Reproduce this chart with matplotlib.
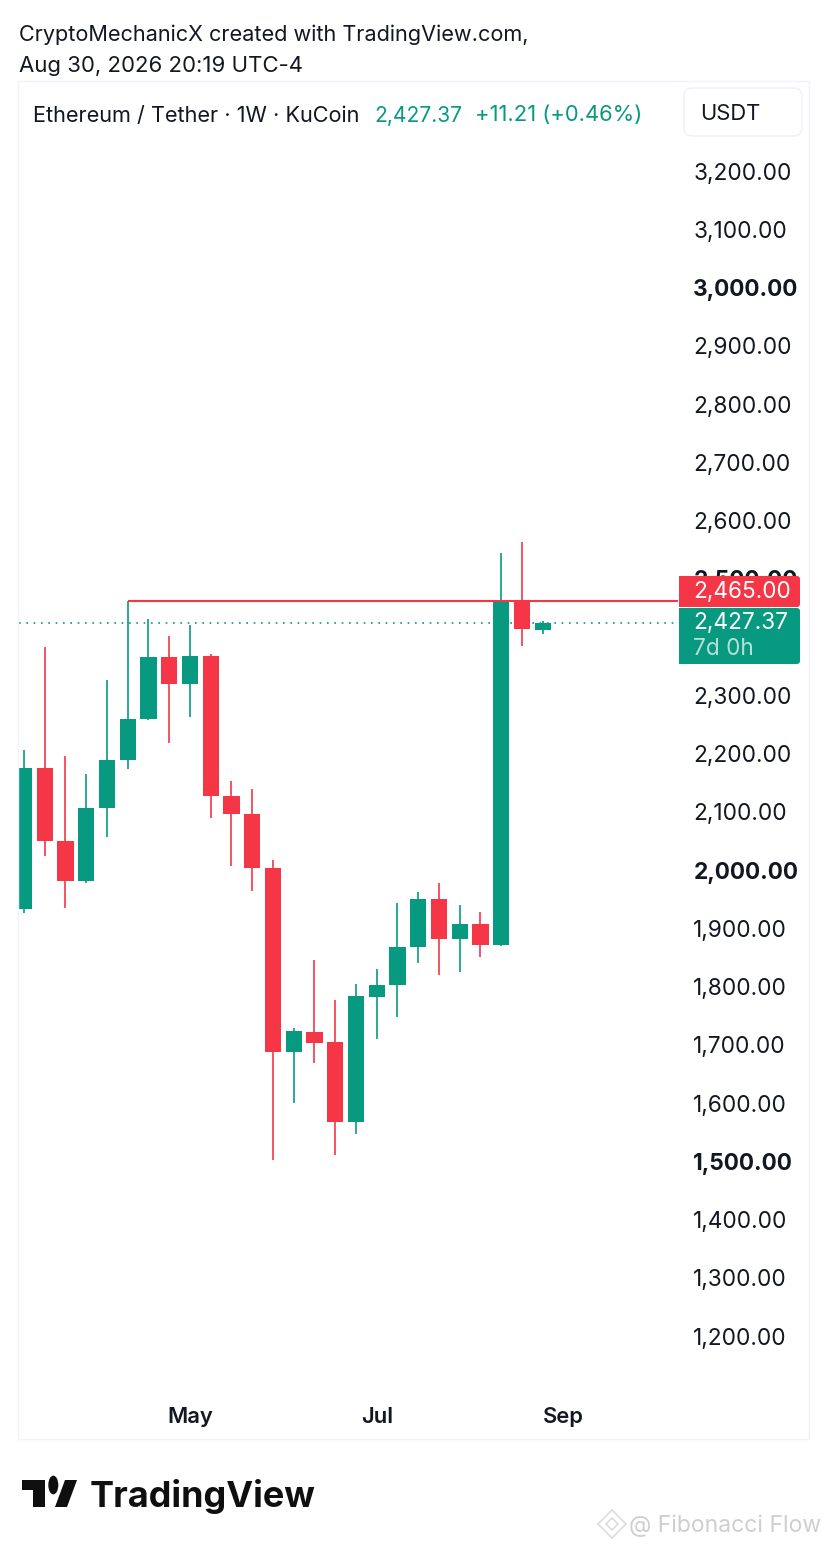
import matplotlib
matplotlib.use('Agg')
import matplotlib.pyplot as plt
from matplotlib.patches import Rectangle, FancyBboxPatch, Polygon, Circle
from matplotlib.transforms import IdentityTransform, ScaledTranslation

plt.rcParams['font.family'] = ['Inter', 'DejaVu Sans']

# weekly candles
opens = [1937, 2178, 2054, 1985, 2110.6, 2192, 2263, 2370, 2322.5, 2370.5, 2130.8, 2100, 2007,
         1690.7, 1725, 1707.9, 1571, 1785.2, 1806.3, 1871.5, 1954.4, 1885.3, 1910.5, 1875.5, 2465, 2416.16]
closes = [2178, 2054, 1984.3, 2110, 2192, 2263.4, 2370, 2323, 2370.5, 2130.8, 2099.8, 2007.1, 1690.7,
          1726.8, 1707.2, 1571, 1786.9, 1806.3, 1871.5, 1954.4, 1885.3, 1910.5, 1875.5, 2465, 2417.4, 2427.37]
highs = [2209.7, 2386.5, 2199.4, 2168, 2329.9, 2465, 2435, 2404.9, 2423.8, 2374, 2157, 2142.2, 2020.9,
         1732, 1849.7, 1780, 1808.5, 1833.8, 1946.5, 1966.5, 1980.9, 1943.1, 1931.6, 2547.4, 2566.3, 2431.1]
lows = [1930.4, 2027.8, 1939, 1980.9, 2060.9, 2176.6, 2260.7, 2221.2, 2266.4, 2093.5, 2010.6, 1968.2, 1505.9,
        1604.2, 1672.4, 1513.9, 1551, 1714, 1751.4, 1844, 1822.9, 1829.1, 1854.9, 1873.2, 2388.8, 2408.3]

price_ticks = [1200, 1300, 1400, 1500, 1600, 1700, 1800, 1900, 2000, 2100, 2200, 2300, 2500, 2600,
               2700, 2800, 2900, 3000, 3100, 3200]
bold_ticks = [1500, 2000, 2500, 3000]
month_pos = [8, 17, 26]
month_labels = ['May', 'Jul', 'Sep']

last_price = 2427.37
level_price = 2465
level_start = 5

GREEN = '#089981'
RED = '#F43647'
DARK = '#131722'

W, H = 828, 1550
fig = plt.figure(figsize=(W / 100, H / 100), dpi=100, facecolor='white')


def fx(x):
    return x / W


def fy(y):
    return 1 - y / H


def px_text(x, y, s, size, **kw):
    kw.setdefault('color', DARK)
    kw.setdefault('va', 'center')
    fig.text(fx(x), fy(y), s, fontsize=size * 0.72, **kw)


def px_box(x0, y0, x1, y1, rounding, **kw):
    # pixel coords from the top-left; box is drawn with display units so corners stay round
    fig.add_artist(FancyBboxPatch((x0 + rounding, H - y1 + rounding), x1 - x0 - 2 * rounding, y1 - y0 - 2 * rounding,
                                  boxstyle=f'round,pad={rounding},rounding_size={rounding}',
                                  mutation_scale=1, transform=IdentityTransform(), **kw))


def px_poly(pts, **kw):
    fig.add_artist(Polygon([(fx(x), fy(y)) for x, y in pts], closed=True, transform=fig.transFigure, **kw))


# outer frame
fig.add_artist(Rectangle((fx(18), fy(1439)), 791 / W, 1358 / H, transform=fig.transFigure,
                         fill=False, ec='#f0f3fa', lw=1))

ax = fig.add_axes([fx(19), fy(1398), 659 / W, 1317 / H])
ax.set_facecolor('none')
ax.set_xlim(-0.24, 31.52)
ax.set_ylim(1097.3, 3358.2)
for s in ax.spines.values():
    s.set_visible(False)

for i in range(len(opens)):
    col = GREEN if closes[i] >= opens[i] else RED
    ax.vlines(i, lows[i], highs[i], color=col, lw=1.2, zorder=3)
    ax.bar(i, abs(closes[i] - opens[i]), bottom=min(opens[i], closes[i]), width=0.79,
           color=col, edgecolor='none', zorder=4)

ax.hlines(level_price, level_start, 31.52, color=RED, lw=1.5, zorder=5)
ax.axhline(last_price, color=GREEN, lw=1.2, ls=(0, (1, 3.4)), zorder=2)

ax.yaxis.tick_right()
ax.set_yticks(price_ticks)
ax.set_yticklabels([f'{p:,.2f}' for p in price_ticks], fontsize=16.3, color=DARK)
ax.tick_params(axis='y', length=0, pad=11)
up = ScaledTranslation(0, 2 / 72 * 0.72, fig.dpi_scale_trans)
for lab, p in zip(ax.get_yticklabels(), price_ticks):
    lab.set_transform(lab.get_transform() + up)
    if p in bold_ticks:
        lab.set_fontweight('bold')
ax.set_xticks(month_pos)
ax.set_xticklabels(month_labels, fontsize=15.8, color=DARK, fontweight='semibold')
ax.tick_params(axis='x', length=0, pad=6.7)

# last price / level tags over the scale
px_box(679, 608, 800, 664, 3, fc=GREEN, ec='none', zorder=20)
fig.add_artist(Rectangle((fx(679), fy(664)), 6 / W, 56 / H, transform=fig.transFigure, fc=GREEN, ec='none', zorder=20))
px_box(679, 576, 800, 607, 3, fc=RED, ec='none', zorder=21)
fig.add_artist(Rectangle((fx(679), fy(607)), 6 / W, 31 / H, transform=fig.transFigure, fc=RED, ec='none', zorder=21))
px_text(693.5, 592, '2,465.00', 22.6, color='white', zorder=22)
px_text(693.5, 623, '2,427.37', 22.6, color='white', zorder=22)
px_text(693.5, 649, '7d 0h', 22.6, color='#b5e0d9', zorder=22)

# header
px_text(19, 34.5, 'CryptoMechanicX created with TradingView.com,', 21.7)
px_text(19, 65.5, 'Aug 30, 2026 20:19 UTC-4', 22.2)
px_text(33.5, 115.5, 'Ethereum / Tether · 1W · KuCoin', 21.7)
px_text(374, 115.5, '2,427.37', 21, color=GREEN)
px_text(475.5, 115.5, '+11.21 (+0.46%)', 22, color=GREEN)

px_box(684, 88, 802, 136, 8, fc='white', ec='#eef0f5', lw=1, zorder=5)
px_text(700.5, 114.5, 'USDT', 22, zorder=6)

# logo
logo = '#0f0f0f'
px_poly([(22.3, 1480), (45, 1480), (45, 1507), (33, 1507), (33, 1490), (22.3, 1490)], fc=logo, ec='none')
fig.add_artist(Circle((fx(53.3), fy(1485)), 5 / W, transform=fig.transFigure, fc=logo, ec='none'))
px_poly([(65, 1480), (77, 1480), (67, 1507), (55, 1507)], fc=logo, ec='none')
px_text(90, 1497, 'TradingView', 36, color=logo, fontweight='bold')

# watermark
px_poly([(612, 1510), (626, 1524), (612, 1538), (598, 1524)], fill=False, ec='#dcdcdc', lw=1.2)
px_poly([(612, 1518), (618, 1524), (612, 1530), (606, 1524)], fill=False, ec='#d6d6d6', lw=1)
px_text(629, 1526, '@ Fibonacci Flow', 23, color='#cfcfcf')

fig.savefig('out.png', dpi=100)
